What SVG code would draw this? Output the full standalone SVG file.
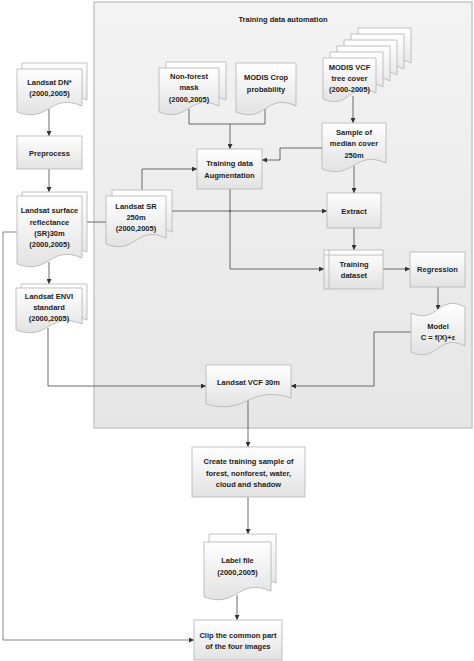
<svg xmlns="http://www.w3.org/2000/svg" width="474" height="661" viewBox="0 0 474 661">
<style>
.sh{fill:url(#g);stroke:#b3b3b3;stroke-width:0.8}
.t{font-family:"Liberation Sans",Arial,sans-serif;font-weight:bold;font-size:7.5px;fill:#222;text-anchor:middle}
.c{fill:none;stroke:#5a5a5a;stroke-width:0.9}
.a{marker-end:url(#ar)}
</style>
<defs>
<linearGradient id="g" x1="0" y1="0" x2="0" y2="1">
<stop offset="0" stop-color="#ffffff"/>
<stop offset="1" stop-color="#e2e2e2"/>
</linearGradient>
<linearGradient id="pg" x1="0" y1="0" x2="0" y2="1">
<stop offset="0" stop-color="#f3f3f3"/>
<stop offset="1" stop-color="#e6e6e6"/>
</linearGradient>
<marker id="ar" viewBox="0 0 6 6" refX="6" refY="3" markerWidth="5" markerHeight="5" markerUnits="userSpaceOnUse" orient="auto">
<path d="M0,0 L6,3 L0,6 Z" fill="#333"/>
</marker>
</defs>
<rect width="474" height="661" fill="#ffffff"/>
<g id="panel">
<rect x="94" y="2" width="378" height="426" fill="url(#pg)" stroke="#c8c8c8" stroke-width="1.5"/>
<text class="t" x="283" y="22">Training data automation</text>
</g>
<g id="connectors">
<path class="c a" d="M49,109 V136"/>
<path class="c a" d="M49,169 V192"/>
<path class="c a" d="M49,262 V284"/>
<path class="c a" d="M17,232 H3 V640 H194" stroke-width="1.4" style="stroke:#777"/>
<path class="c" d="M87,222 H106"/>
<path class="c a" d="M142,190 V169 H197"/>
<path class="c a" d="M172,211 H327"/>
<circle cx="230" cy="211" r="1" fill="#5a5a5a"/>
<path class="c a" d="M230,189 V269 H324"/>
<path class="c" d="M189,109 V124 H265 V108"/>
<path class="c a" d="M230,124 V149"/>
<path class="c a" d="M353,96 V123"/>
<path class="c a" d="M322,148 H280 V160 H262"/>
<path class="c a" d="M354,166 V193"/>
<path class="c a" d="M354,228 V250"/>
<path class="c a" d="M383,269 H410"/>
<path class="c a" d="M438,287 V310"/>
<path class="c a" d="M411,332 H374 V386 H291"/>
<path class="c a" d="M48,328 V386 H206"/>
<path class="c a" d="M248,401 V447"/>
<path class="c a" d="M248,497 V534"/>
<path class="c a" d="M237,595 V620"/>
</g>
<g id="landsat-dn">
<path class="sh" d="M22,63 H87 V100 C54.5,86 54.5,118 22,106 Z"/>
<path class="sh" d="M17,69 H82 V106 C49.5,92 49.5,124 17,112 Z"/>
<text class="t" x="49.5" y="85">Landsat DN*</text>
<text class="t" x="49.5" y="96">(2000,2005)</text>
</g>
<g id="preprocess">
<rect class="sh" x="17" y="136" width="65" height="33"/>
<text class="t" x="49.5" y="155.7">Preprocess</text>
</g>
<g id="landsat-sr30">
<path class="sh" d="M22,192 H87 V252 C54.5,238 54.5,270 22,258 Z"/>
<path class="sh" d="M17,196 H82 V258 C49.5,244 49.5,276 17,264 Z"/>
<text class="t" x="49.5" y="213">Landsat surface</text>
<text class="t" x="49.5" y="224.5">reflectance</text>
<text class="t" x="49.5" y="236">(SR)30m</text>
<text class="t" x="49.5" y="247">(2000,2005)</text>
</g>
<g id="landsat-envi">
<path class="sh" d="M21,284 H87 V320 C54,306 54,338 21,326 Z"/>
<path class="sh" d="M16,288 H82 V324 C49,310 49,342 16,330 Z"/>
<text class="t" x="49" y="299">Landsat ENVI</text>
<text class="t" x="49" y="310">standard</text>
<text class="t" x="49" y="321">(2000,2005)</text>
</g>
<g id="landsat-sr250">
<path class="sh" d="M112,190 H172 V232 C142,218 142,250 112,238 Z"/>
<path class="sh" d="M106,196 H166 V238 C136,224 136,256 106,244 Z"/>
<text class="t" x="136" y="209">Landsat SR</text>
<text class="t" x="136" y="220">250m</text>
<text class="t" x="136" y="231">(2000,2005)</text>
</g>
<g id="non-forest">
<path class="sh" d="M166,62 H226 V100 C196,86 196,118 166,106 Z"/>
<path class="sh" d="M159,68 H219 V106 C189,92 189,124 159,112 Z"/>
<text class="t" x="189" y="79">Non-forest</text>
<text class="t" x="189" y="90">mask</text>
<text class="t" x="189" y="101.5">(2000,2005)</text>
</g>
<g id="modis-crop">
<path class="sh" d="M236,63 H296 V106 C266,92 266,124 236,112 Z"/>
<text class="t" x="266" y="80">MODIS Crop</text>
<text class="t" x="266" y="92">probability</text>
</g>
<g id="modis-vcf">
<path class="sh" d="M358,28 H411 V63 C384.5,49 384.5,81 358,69 Z"/>
<path class="sh" d="M351,34 H404 V69 C377.5,55 377.5,87 351,75 Z"/>
<path class="sh" d="M344,40 H397 V75 C370.5,61 370.5,93 344,81 Z"/>
<path class="sh" d="M337,46 H390 V81 C363.5,67 363.5,99 337,87 Z"/>
<path class="sh" d="M330,52 H383 V87 C356.5,73 356.5,105 330,93 Z"/>
<path class="sh" d="M323,58 H376 V93 C349.5,79 349.5,111 323,99 Z"/>
<text class="t" x="349.5" y="70">MODIS VCF</text>
<text class="t" x="349.5" y="81">tree cover</text>
<text class="t" x="349.5" y="92">(2000-2005)</text>
</g>
<g id="sample-median">
<path class="sh" d="M322,123 H386 V163 C354,149 354,181 322,169 Z"/>
<text class="t" x="354" y="135">Sample of</text>
<text class="t" x="354" y="146">median cover</text>
<text class="t" x="354" y="157.5">250m</text>
</g>
<g id="augmentation">
<rect class="sh" x="197" y="149" width="65" height="40"/>
<text class="t" x="229.5" y="166">Training data</text>
<text class="t" x="229.5" y="177.5">Augmentation</text>
</g>
<g id="extract">
<rect class="sh" x="327" y="193" width="54" height="35"/>
<text class="t" x="354" y="213.7">Extract</text>
</g>
<g id="training-dataset">
<rect class="sh" x="324" y="250" width="59" height="39"/>
<path d="M324,255 H383 M329,250 V289" stroke="#b3b3b3" stroke-width="0.8" fill="none"/>
<text class="t" x="354" y="267">Training</text>
<text class="t" x="354" y="278">dataset</text>
</g>
<g id="regression">
<rect class="sh" x="410" y="252" width="55" height="35"/>
<text class="t" x="437.5" y="272">Regression</text>
</g>
<g id="model">
<path class="sh" d="M411,313 C438,325 438,293 465,307 V346 C438,332 438,364 411,352 Z"/>
<text class="t" x="438" y="329">Model</text>
<text class="t" x="438" y="340">C = f(X)+ε</text>
</g>
<g id="landsat-vcf30">
<path class="sh" d="M206,365 H291 V398 C248.5,384 248.5,416 206,404 Z"/>
<text class="t" x="248.5" y="384.7">Landsat VCF 30m</text>
</g>
<g id="create-sample">
<rect class="sh" x="192" y="447" width="113" height="50"/>
<text class="t" x="248.5" y="464">Create training sample of</text>
<text class="t" x="248.5" y="475.5">forest, nonforest, water,</text>
<text class="t" x="248.5" y="487">cloud and shadow</text>
</g>
<g id="label-file">
<path class="sh" d="M209,534 H276 V583 C242.5,569 242.5,601 209,589 Z"/>
<path class="sh" d="M204,542 H271 V591 C237.5,577 237.5,609 204,597 Z"/>
<text class="t" x="237.5" y="563">Label file</text>
<text class="t" x="237.5" y="575">(2000,2005)</text>
</g>
<g id="clip">
<rect class="sh" x="194" y="620" width="88" height="40"/>
<text class="t" x="238" y="637.5">Clip the common part</text>
<text class="t" x="238" y="649">of the four images</text>
</g>
</svg>
